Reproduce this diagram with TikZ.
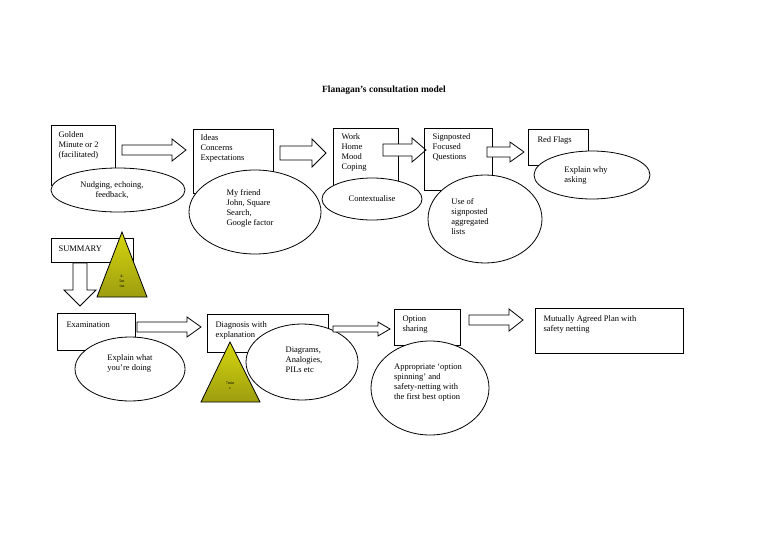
\documentclass[tikz,border=0pt]{standalone}
\usepackage{fontspec}
\setmainfont{Liberation Serif}
\usetikzlibrary{shapes.geometric}
\definecolor{trifill}{RGB}{196,196,20}
\newcommand\harr[5]{\draw[thick,fill=white] (#1,#3-#4) -- (#2-14,#3-#4) -- (#2-14,#3-#5) -- (#2,#3) -- (#2-14,#3+#5) -- (#2-14,#3+#4) -- (#1,#3+#4) -- cycle;}
\begin{document}
\begin{tikzpicture}[x=1pt,y=-1pt,
 tx/.style={font=\fontsize{8.5}{10}\selectfont,align=left,anchor=north west},
 el/.style={draw,thick,ellipse,inner sep=0pt,fill=white},
 trif/.style={draw,thick,top color=trifill!70!yellow,bottom color=trifill!80!black}]
\useasboundingbox (0,0) rectangle (768,543);
\node[font=\bfseries\fontsize{9.5}{11}\selectfont] (title) at (384,90) {Flanagan’s consultation model};
% row 1
\draw[thick] (51,125) rectangle (115,185); \node[tx] (t1) at (55,128) {Golden\\Minute or 2\\(facilitated)};
\node[el,minimum width=134pt,minimum height=44pt] (e1) at (118,190) {};
\node[tx,anchor=center,align=center] at (112,190) {Nudging, echoing,\\feedback,};
\harr{122}{186}{150}{5}{11}
\draw[thick] (193,129) rectangle (273,193); \node[tx] (t2) at (197,131) {Ideas\\Concerns\\Expectations};
\node[el,minimum width=132pt,minimum height=84pt] (e2) at (255,212) {};
\node[tx,anchor=center] at (250,208) {My friend\\John, Square\\Search,\\Google factor};
\harr{280}{326}{153}{7}{14}
\draw[thick] (333,128) rectangle (398,190); \node[tx] (t3) at (338,130) {Work\\Home\\Mood\\Coping};
\node[el,minimum width=100pt,minimum height=42pt] (e3) at (372,199) {};
\node[tx,anchor=center] at (372,199) {Contextualise};
\harr{383}{426}{150}{6}{12}
\draw[thick] (424,128) rectangle (492,190); \node[tx] (t4) at (429,130) {Signposted\\Focused\\Questions};
\node[el,minimum width=114pt,minimum height=88pt] (e4) at (485,219) {};
\node[tx,anchor=center] at (470,217) {Use of\\signposted\\aggregated\\lists};
\harr{487}{524}{152}{5}{10}
\draw[thick] (528,129) rectangle (588,165); \node[tx] (t5) at (534,133) {Red Flags};
\node[el,minimum width=116pt,minimum height=48pt] (e5) at (592,175) {};
\node[tx,anchor=center] at (586,175) {Explain why\\asking};
% summary
\draw[thick] (51,238) rectangle (133,262); \node[tx] (s) at (55,242) {SUMMARY};
\draw[thick,fill=white] (73,263) -- (87,263) -- (87,290) -- (96,290) -- (80,306) -- (64,290) -- (73,290) -- cycle;
\draw[trif] (122,232) -- (147,297) -- (97,297) -- cycle;
\node[align=center,font=\fontsize{4}{5}\selectfont] (m1) at (122,281) {4-\\5m\\ins};
% row 2
\draw[thick] (57,313) rectangle (135,350); \node[tx] (t6) at (63,318) {Examination};
\node[el,minimum width=110pt,minimum height=64pt] (e6) at (130,369) {};
\node[tx,anchor=center] at (130,363) {Explain what\\you’re doing};
\harr{137}{201}{327}{5}{10}
\draw[thick] (207,314) rectangle (328,352); \node[tx] (t7) at (212,318) {Diagnosis with\\explanation};
\node[el,minimum width=112pt,minimum height=76pt] (e7) at (302,362) {};
\node[tx,anchor=center] at (304,360) {Diagrams,\\Analogies,\\PILs etc};
\draw[trif] (230,342) -- (260,402) -- (201,402) -- cycle;
\node[align=center,font=\fontsize{4}{5}\selectfont] (m2) at (230,386) {7min\\s};
\draw[thick,fill=white] (333,326) -- (378,326) -- (378,322) -- (390,329) -- (378,336) -- (378,332) -- (333,332) -- cycle;
\draw[thick] (394,309) rectangle (460,345); \node[tx] (t8) at (399,312) {Option\\sharing};
\node[el,minimum width=118pt,minimum height=94pt] (e8) at (430,388) {};
\node[tx,anchor=center] at (428,383) {Appropriate ‘option\\spinning’ and\\safety-netting with\\the first best option};
\harr{469}{523}{320}{5}{11}
\draw[thick] (535,308) rectangle (683,353); \node[tx] (t9) at (540,312) {Mutually Agreed Plan with\\safety netting};
\end{tikzpicture}
\end{document}
